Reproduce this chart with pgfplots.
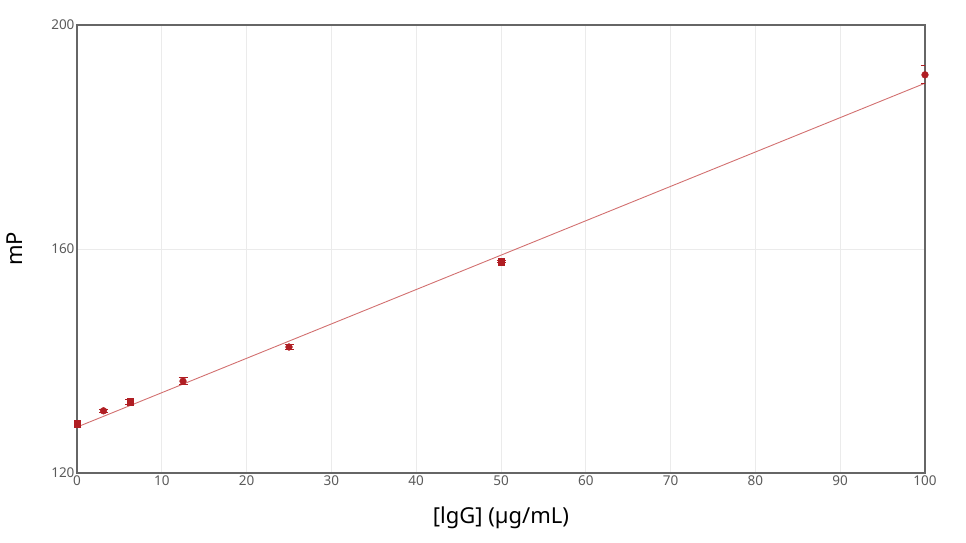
\documentclass[border=0pt]{standalone}
\usepackage{pgfplots}
\pgfplotsset{compat=1.18}
\usepackage{fontspec}
\setmainfont{Noto Sans}
\definecolor{axgray}{HTML}{666666}
\definecolor{tickgray}{HTML}{5A5A5A}
\definecolor{gridc}{HTML}{EBEBEB}
\definecolor{markred}{HTML}{B01E23}
\definecolor{linered}{HTML}{D27070}
\begin{document}
\begin{tikzpicture}
\begin{axis}[
  name=ax,
  scale only axis=true,
  width=848pt, height=448pt,
  xmin=0, xmax=100, ymin=120, ymax=200,
  xtick={0,10,...,100}, ytick={120,160,200},
  grid=major,
  major grid style={gridc, line width=0.8pt},
  axis line style={axgray, line width=1.2pt},
  major tick length=0pt,
  tick label style={font=\fontsize{13.5}{16}\selectfont, text=tickgray},
  /pgf/number format/assume math mode=true,
  xticklabel style={yshift=1pt},
  yticklabel style={xshift=1pt},
  xlabel={[lgG] (µg/mL)},
  ylabel={mP},
  label style={font=\fontsize{22}{26}\selectfont, text=black},
  xlabel style={at={(rel axis cs:0.5,-0.1)}, anchor=center},
  ylabel style={at={(rel axis cs:-0.073,0.5)}, anchor=center},
]
\addplot[linered, line width=0.9pt, forget plot] coordinates {(0,128.2) (100,189.6)};
\addplot[only marks, mark=square*, mark size=3.2pt, color=markred,
  error bars/.cd, y dir=both, y explicit,
  error bar style={draw=markred, line width=1pt}, error mark options={rotate=90, mark size=4.5pt, draw=markred, fill=markred, line width=1pt}]
  table[x=x, y=y, y error=e] {
x y e
0 128.8 0.6
6.25 132.7 0.5
50 157.7 0.2
};
\addplot[only marks, mark=*, mark size=3.4pt, color=markred,
  error bars/.cd, y dir=both, y explicit,
  error bar style={draw=markred, line width=1pt}, error mark options={rotate=90, mark size=4.5pt, draw=markred, fill=markred, line width=1pt}]
  table[x=x, y=y, y error=e] {
x y e
3.125 131.1 0.3
12.5 136.4 0.6
25 142.5 0.5
100 191.1 1.6
};
\end{axis}
\path[use as bounding box] ([shift={(-77pt,-70pt)}]ax.south west) rectangle ([shift={(41pt,25pt)}]ax.north east);
\end{tikzpicture}
\end{document}
